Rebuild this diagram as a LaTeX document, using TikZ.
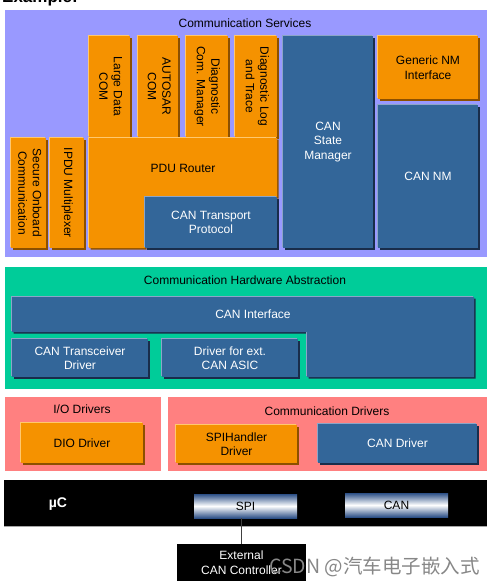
\documentclass[tikz,border=0pt]{standalone}
\usepackage{fontspec}
\usepackage{graphicx}
\setmainfont{Liberation Sans}
\newfontfamily\cjkfont{Noto Sans CJK SC}
\definecolor{purplebg}{RGB}{153,153,255}
\definecolor{greenbg}{RGB}{0,204,153}
\definecolor{pinkbg}{RGB}{255,128,128}
\definecolor{orangec}{RGB}{245,146,0}
\definecolor{orangehi}{RGB}{255,200,110}
\definecolor{orangesh}{RGB}{140,80,0}
\definecolor{bluec}{RGB}{51,102,153}
\definecolor{bluehi}{RGB}{140,165,200}
\definecolor{bluesh}{RGB}{25,45,75}
\definecolor{gradblue}{RGB}{45,80,135}
\definecolor{wmgray}{RGB}{135,135,135}
\newcommand{\vtext}[1]{\rotatebox{-90}{\begin{tabular}{@{}c@{}}#1\end{tabular}}}
\tikzset{
  panel/.style={inner sep=0pt, anchor=north west, draw=none},
  ptitle/.style={inner sep=0pt, text=black},
  obox/.style={fill=orangec, text=black, inner sep=0pt, align=center,
    preaction={fill=orangesh, transform canvas={shift={(1.5pt,-1.5pt)}}},
    preaction={fill=orangehi, transform canvas={shift={(-1pt,1pt)}}}},
  bbox/.style={fill=bluec, text=white, inner sep=0pt, align=center,
    preaction={fill=bluesh, transform canvas={shift={(1.5pt,-1.5pt)}}},
    preaction={fill=bluehi, transform canvas={shift={(-1pt,1pt)}}}},
  hwbox/.style={inner sep=0pt, text=black, top color=gradblue, bottom color=gradblue, middle color=white},
  blackbox/.style={fill=black, text=white, inner sep=0pt, align=center},
  plain/.style={inner sep=0pt, align=center},
}
\begin{document}
\begin{tikzpicture}[x=1pt, y=-1pt, font=\fontsize{12}{14.5}\selectfont]
\useasboundingbox (0,0) rectangle (497,587);
% Example heading (cut off at top)
\node[anchor=base west, inner sep=0pt, font=\bfseries\fontsize{17}{20}\selectfont] (ex) at (2,2.5) {Example:};

% ---------- Communication Services ----------
\node[panel, fill=purplebg, minimum width=482pt, minimum height=247pt] (cspanel) at (5,10) {};
\node[ptitle] (cstitle) at (245,23) {Communication Services};
\node[obox, minimum width=41pt, minimum height=101pt] (lcom) at (109.5,86.5) {\vtext{Large Data\\COM}};
\node[obox, minimum width=40pt, minimum height=101pt] (acom) at (158,86.5) {\vtext{AUTOSAR\\COM}};
\node[obox, minimum width=42pt, minimum height=101pt] (dcm) at (207,86.5) {\vtext{Diagnostic\\Com. Manager}};
\node[obox, minimum width=42pt, minimum height=101pt] (dlt) at (256,86.5) {\vtext{Diagnostic Log\\and Trace}};
\node[bbox, minimum width=90pt, minimum height=212pt] (cansm) at (328,142) {CAN\\State\\Manager};
\node[obox, minimum width=100pt, minimum height=63pt] (gnm) at (428,67.5) {Generic NM\\Interface};
\node[bbox, minimum width=100pt, minimum height=143pt] (cannm) at (428,176.5) {CAN NM};
\node[obox, minimum width=35pt, minimum height=110pt] (secoc) at (28.5,193) {\vtext{Secure Onboard\\Communication}};
\node[obox, minimum width=34pt, minimum height=110pt] (ipdum) at (67,193) {\vtext{IPDU Multiplexer}};
% PDU Router (L-shape)
\fill[orangesh, transform canvas={shift={(1.5pt,-1.5pt)}}] (89,138) -- (277,138) -- (277,197) -- (145,197) -- (145,248) -- (89,248) -- cycle;
\fill[orangehi, transform canvas={shift={(-1pt,1pt)}}] (89,138) -- (277,138) -- (277,197) -- (145,197) -- (145,248) -- (89,248) -- cycle;
\fill[orangec] (89,138) -- (277,138) -- (277,197) -- (145,197) -- (145,248) -- (89,248) -- cycle;
\node[plain] (pdur) at (183,168) {PDU Router};
\node[bbox, minimum width=132pt, minimum height=51pt] (cantp) at (211,222.5) {CAN Transport\\Protocol};

% ---------- Communication Hardware Abstraction ----------
\node[panel, fill=greenbg, minimum width=482pt, minimum height=122pt] (chapanel) at (5,267) {};
\node[ptitle] (chatitle) at (245,280) {Communication Hardware Abstraction};
\fill[bluesh, transform canvas={shift={(1.5pt,-1.5pt)}}] (12,297) -- (474,297) -- (474,377) -- (307,377) -- (307,332) -- (12,332) -- cycle;
\fill[bluehi, transform canvas={shift={(-1pt,1pt)}}] (12,297) -- (474,297) -- (474,377) -- (307,377) -- (307,332) -- (12,332) -- cycle;
\fill[bluec] (12,297) -- (474,297) -- (474,377) -- (307,377) -- (307,332) -- (12,332) -- cycle;
\node[plain, text=white] (canif) at (253,314) {CAN Interface};
\node[bbox, minimum width=136pt, minimum height=38pt] (cantrcv) at (80,358) {CAN Transceiver\\Driver};
\node[bbox, minimum width=136pt, minimum height=38pt] (canasic) at (230,358) {Driver for ext.\\CAN ASIC};

% ---------- Drivers ----------
\node[panel, fill=pinkbg, minimum width=156pt, minimum height=74pt] (iopanel) at (5,397) {};
\node[ptitle] (iotitle) at (82,409) {I/O Drivers};
\node[obox, minimum width=122pt, minimum height=40pt] (dio) at (82,443) {DIO Driver};
\node[panel, fill=pinkbg, minimum width=319pt, minimum height=74pt] (cdpanel) at (168,397) {};
\node[ptitle] (cdtitle) at (327,411) {Communication Drivers};
\node[obox, minimum width=121pt, minimum height=38pt] (spih) at (236.5,444) {SPIHandler\\Driver};
\node[bbox, minimum width=159pt, minimum height=39pt] (candrv) at (397.5,443.5) {CAN Driver};

% ---------- Microcontroller ----------
\node[panel, fill=black, minimum width=483pt, minimum height=46pt] (uc) at (4,480) {};
\draw[gray!70, line width=1pt] (uc.south west) -- (uc.south east);
\node[plain, text=white, font=\bfseries\fontsize{14}{16}\selectfont] (uclabel) at (58,504) {µC};
\node[hwbox, minimum width=103pt, minimum height=24pt] (spi) at (245.5,506) {SPI};
\node[hwbox, minimum width=103pt, minimum height=24pt] (can) at (396.5,505) {CAN};
\node[blackbox, minimum width=129pt, minimum height=37pt] (ext) at (241.5,562.5) {External\\CAN Controller};
\draw[black!75, line width=1.3pt] (ext.north |- spi.south) -- (ext.north);

% watermark
\node[anchor=west, inner sep=0pt, text=wmgray, font=\cjkfont\fontsize{19.5}{22}\selectfont] (wm) at (269,567) {CSDN @汽车电子嵌入式};
\end{tikzpicture}
\end{document}
